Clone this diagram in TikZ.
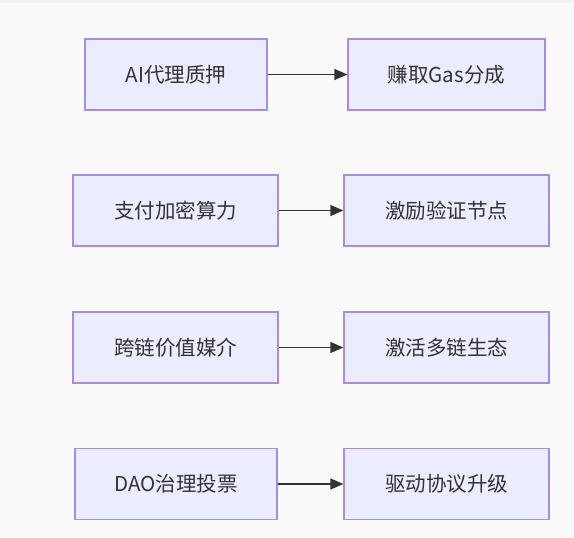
\documentclass[tikz,border=0pt]{standalone}
\usepackage{fontspec}
\setmainfont{Noto Sans CJK SC}
\usetikzlibrary{arrows.meta,positioning}
\definecolor{boxfill}{HTML}{ECECFF}
\definecolor{boxline}{HTML}{A88BE3}
\definecolor{ink}{HTML}{333333}
\definecolor{canvas}{HTML}{F9F9FA}
\definecolor{topbar}{HTML}{F1F1F3}

\begin{document}
\begin{tikzpicture}[x=1pt,y=-1pt,
  box/.style={draw=boxline,fill=boxfill,line width=1.3pt,minimum height=71pt,
    inner sep=0pt,text=ink,font=\fontsize{20.5}{24}\selectfont},
  link/.style={ink,line width=1.3pt,-{Triangle[length=13pt,width=11pt]}}]
  % Canvas
  \fill[canvas] (0,0) rectangle (574,538);
  \fill[topbar] (0,0) rectangle (574,3);
  \useasboundingbox (0,0) rectangle (574,538);

  % Left column
  \node[box,minimum width=182pt] (stake) at (176,74.5) {AI代理质押};
  \node[box,minimum width=205pt] (pay) at (175.5,210.5) {支付加密算力};
  \node[box,minimum width=205pt] (bridge) at (175.5,347.5) {跨链价值媒介};
  \node[box,minimum width=202pt] (vote) at (176,484) {DAO治理投票};

  % Right column
  \node[box,minimum width=197pt] (gas) at (446.5,74.5) {赚取Gas分成};
  \node[box,minimum width=205pt] (nodes) at (446.5,210.5) {激励验证节点};
  \node[box,minimum width=205pt] (chains) at (446.5,347.5) {激活多链生态};
  \node[box,minimum width=205pt] (upgrade) at (446.5,484) {驱动协议升级};

  % Links
  \draw[link] (stake) -- (gas);
  \draw[link] (pay) -- (nodes);
  \draw[link] (bridge) -- (chains);
  \draw[link] (vote) -- (upgrade);
\end{tikzpicture}
\end{document}
